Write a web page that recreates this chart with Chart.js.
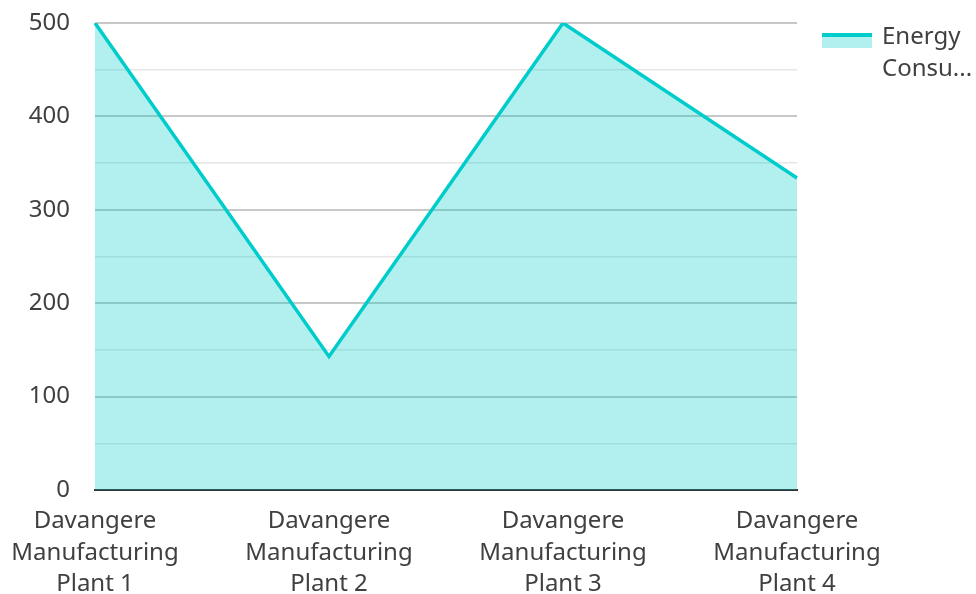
<!DOCTYPE html>
<html>
<head>
<meta charset="utf-8">
<script src="https://cdn.jsdelivr.net/npm/chart.js@4/dist/chart.umd.min.js"></script>
<style>
  html, body { margin: 0; padding: 0; background: #fff; }
  #wrap { width: 976px; height: 594px; }
</style>
</head>
<body>
<div id="wrap"><canvas id="c" width="976" height="594"></canvas></div>
<script>
const categories = [
  ["Davangere", "Manufacturing", "Plant 1"],
  ["Davangere", "Manufacturing", "Plant 2"],
  ["Davangere", "Manufacturing", "Plant 3"],
  ["Davangere", "Manufacturing", "Plant 4"]
];
const seriesLabel = "Energy Consumption";
const energyValues = [500, 143, 500, 334];
const yTickLabels = [0, 100, 200, 300, 400, 500];

const FONT = "'Noto Sans', sans-serif";
const TEXT = '#404040';
const LINE = 'rgb(0,204,204)';
const FILL = 'rgba(0,204,204,0.3)';

const legendPlugin = {
  id: 'customLegend',
  afterDraw(chart) {
    const ctx = chart.ctx;
    const ds = chart.data.datasets[0];
    const x0 = 822, x1 = 872;
    ctx.save();
    ctx.fillStyle = ds.backgroundColor;
    ctx.fillRect(x0, 36, x1 - x0, 12);
    ctx.fillStyle = ds.borderColor;
    ctx.fillRect(x0, 33, x1 - x0, 4);
    ctx.fillStyle = TEXT;
    ctx.font = "24px " + FONT;
    ctx.textBaseline = 'middle';
    ctx.textAlign = 'left';
    ctx.fillText('Energy', 882, 37);
    ctx.fillText('Consu...', 882, 69);
    ctx.restore();
  }
};

new Chart(document.getElementById('c'), {
  type: 'line',
  data: {
    labels: categories,
    datasets: [{
      label: seriesLabel,
      data: energyValues,
      borderColor: LINE,
      backgroundColor: FILL,
      borderWidth: 3.5,
      fill: 'origin',
      pointRadius: 0,
      tension: 0
    }]
  },
  plugins: [legendPlugin],
  options: {
    responsive: false,
    animation: false,
    layout: { padding: { left: 0, right: 179, top: 23, bottom: 0 } },
    plugins: { legend: { display: false }, tooltip: { enabled: false } },
    scales: {
      x: {
        offset: false,
        grid: { display: false, drawTicks: false },
        border: { display: true, color: '#333333', width: 2 },
        ticks: {
          color: TEXT,
          font: { family: FONT, size: 24, lineHeight: 1.3 },
          padding: 16,
          maxRotation: 0,
          autoSkip: false
        },
        afterFit(scale) {
          scale.height = 104;
          scale.paddingLeft = 0; scale.paddingRight = 0;
          scale.paddingTop = 0; scale.paddingBottom = 0;
        }
      },
      y: {
        min: 0,
        max: 500,
        grid: {
          drawTicks: false,
          lineWidth(ctx) {
            const v = ctx.tick ? ctx.tick.value : 0;
            return (v % 100 === 0) ? 2 : 1.5;
          },
          color(ctx) {
            const v = ctx.tick ? ctx.tick.value : 0;
            return (v % 100 === 0) ? '#c8c8c8' : '#e6e6e6';
          }
        },
        border: { display: false },
        ticks: {
          stepSize: 50,
          color: TEXT,
          font: { family: FONT, size: 24 },
          padding: 25,
          callback(v) { return yTickLabels.includes(v) ? String(v) : ''; }
        },
        afterFit(scale) {
          scale.width = 95;
          scale.paddingTop = 0; scale.paddingBottom = 0;
          scale.paddingLeft = 0; scale.paddingRight = 0;
        }
      }
    }
  }
});
</script>
</body>
</html>
